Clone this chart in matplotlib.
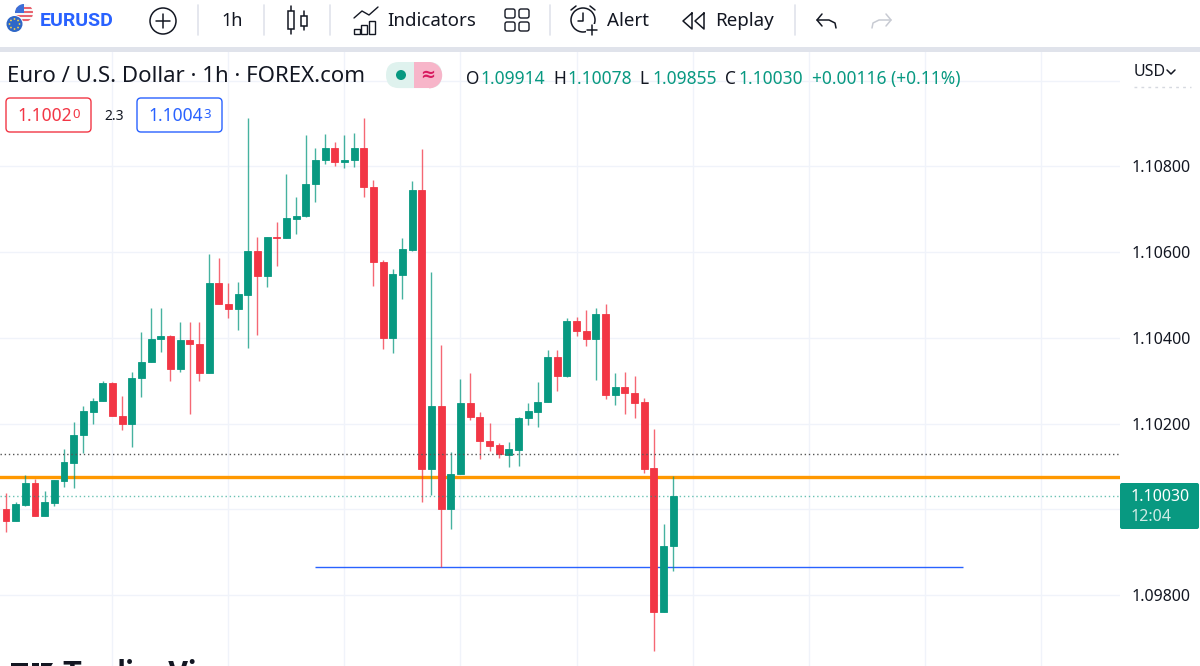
import matplotlib
matplotlib.use('Agg')
import matplotlib.pyplot as plt
import numpy as np
from matplotlib.patches import Circle, FancyBboxPatch, Polygon, Rectangle, Wedge

plt.rcParams['font.family'] = ['Noto Sans', 'DejaVu Sans']

# hourly candles
opens = [1.10001, 1.09973, 1.10010, 1.10061, 1.09984, 1.10015, 1.10066, 1.10109, 1.10173, 1.10228,
         1.10252, 1.10295, 1.10218, 1.10199, 1.10306, 1.10344, 1.10397, 1.10404, 1.10328, 1.10395,
         1.10386, 1.10319, 1.10529, 1.10480, 1.10467, 1.10501, 1.10603, 1.10545, 1.10635, 1.10632,
         1.10678, 1.10684, 1.10759, 1.10814, 1.10842, 1.10811, 1.10814, 1.10842, 1.10752, 1.10578,
         1.10400, 1.10547, 1.10605, 1.10744, 1.10094, 1.10240, 1.10001, 1.10082, 1.10249, 1.10215,
         1.10160, 1.10149, 1.10127, 1.10139, 1.10212, 1.10228, 1.10250, 1.10355, 1.10310, 1.10440,
         1.10417, 1.10398, 1.10456, 1.10267, 1.10285, 1.10272, 1.10250, 1.10096, 1.09760, 1.09914]
highs = [1.10037, 1.10018, 1.10080, 1.10070, 1.10043, 1.10068, 1.10141, 1.10204, 1.10241, 1.10259,
         1.10300, 1.10298, 1.10264, 1.10320, 1.10414, 1.10469, 1.10469, 1.10407, 1.10438, 1.10436,
         1.10436, 1.10596, 1.10586, 1.10527, 1.10531, 1.10913, 1.10635, 1.10635, 1.10671, 1.10782,
         1.10729, 1.10874, 1.10842, 1.10876, 1.10858, 1.10874, 1.10878, 1.10913, 1.10769, 1.10582,
         1.10560, 1.10633, 1.10766, 1.10840, 1.10553, 1.10383, 1.10133, 1.10305, 1.10318, 1.10227,
         1.10201, 1.10155, 1.10156, 1.10216, 1.10247, 1.10298, 1.10371, 1.10371, 1.10446, 1.10448,
         1.10465, 1.10469, 1.10478, 1.10317, 1.10320, 1.10311, 1.10260, 1.10187, 1.09965, 1.10078]
lows = [1.09948, 1.09973, 1.10008, 1.09984, 1.09984, 1.10008, 1.10053, 1.10050, 1.10132, 1.10199,
        1.10252, 1.10217, 1.10185, 1.10146, 1.10261, 1.10343, 1.10368, 1.10299, 1.10321, 1.10223,
        1.10299, 1.10319, 1.10479, 1.10447, 1.10418, 1.10376, 1.10407, 1.10519, 1.10568, 1.10632,
        1.10642, 1.10683, 1.10716, 1.10805, 1.10802, 1.10796, 1.10798, 1.10729, 1.10521, 1.10374,
        1.10365, 1.10491, 1.10603, 1.10017, 1.10033, 1.09865, 1.09955, 1.10082, 1.10208, 1.10117,
        1.10136, 1.10120, 1.10099, 1.10102, 1.10197, 1.10193, 1.10250, 1.10276, 1.10309, 1.10405,
        1.10381, 1.10301, 1.10258, 1.10243, 1.10223, 1.10214, 1.10085, 1.09670, 1.09760, 1.09855]
closes = [1.09973, 1.10012, 1.10061, 1.09984, 1.10016, 1.10068, 1.10110, 1.10173, 1.10229, 1.10253,
          1.10295, 1.10217, 1.10199, 1.10307, 1.10344, 1.10397, 1.10404, 1.10328, 1.10395, 1.10386,
          1.10319, 1.10529, 1.10479, 1.10467, 1.10502, 1.10603, 1.10545, 1.10635, 1.10632, 1.10680,
          1.10684, 1.10760, 1.10815, 1.10842, 1.10811, 1.10815, 1.10842, 1.10752, 1.10578, 1.10400,
          1.10549, 1.10607, 1.10744, 1.10094, 1.10240, 1.10001, 1.10082, 1.10249, 1.10215, 1.10159,
          1.10148, 1.10128, 1.10140, 1.10214, 1.10229, 1.10251, 1.10355, 1.10310, 1.10440, 1.10417,
          1.10398, 1.10456, 1.10267, 1.10285, 1.10272, 1.10247, 1.10094, 1.09760, 1.09914, 1.10030]

price_ticks = [1.098, 1.100, 1.102, 1.104, 1.106, 1.108, 1.110]
price_labels = ['1.09800', '', '1.10200', '1.10400', '1.10600', '1.10800', '']
time_grid = [11, 23, 35, 47, 59, 71, 83, 95, 107]

orange_level = 1.10075
dotted_level = 1.10129
last_close = closes[-1]
drawn_level = 1.09865
drawn_start, drawn_end = 32, 99

green = '#089981'
red = '#F23645'
blue = '#2962FF'
orange = '#FF9800'
ink = '#131722'

fig = plt.figure(figsize=(12, 6.66), dpi=100)
fig.patch.set_facecolor('white')

# price pane, 1120 px wide, from below the toolbar to the bottom edge
ax = fig.add_axes([0, 0, 1120 / 1200, 614 / 666])
x = np.arange(len(closes))
colors = [green if c >= o else red for o, c in zip(opens, closes)]

ax.vlines(x, lows, highs, colors=colors, linewidth=1.0, alpha=0.75, zorder=3)
bottoms = np.minimum(opens, closes)
heights = np.abs(np.array(closes) - np.array(opens))
ax.bar(x, heights, bottom=bottoms, width=0.72, color=colors, edgecolor=colors,
       linewidth=0.6, zorder=4)

ax.axhline(orange_level, color=orange, linewidth=2.4, zorder=2)
ax.axhline(dotted_level, color='#555555', linewidth=1.0, linestyle=(0, (1, 2)), zorder=5)
ax.axhline(last_close, color=green, linewidth=1.0, linestyle=(0, (1, 2)), alpha=0.6, zorder=5)
ax.hlines(drawn_level, drawn_start, drawn_end, color=blue, linewidth=1.0, zorder=2)

ax.set_xlim(-0.62, 115.2)
ax.set_ylim(1.096343, 1.110672)
ax.set_xticks(time_grid)
ax.set_xticklabels([])
ax.yaxis.tick_right()
ax.set_yticks(price_ticks)
ax.set_yticklabels(price_labels)
ax.tick_params(axis='both', length=0)
ax.tick_params(axis='y', pad=8, labelsize=11.5, labelcolor=ink)
ax.grid(True, color='#F0F3FA', linewidth=1.0)
ax.set_axisbelow(True)
for s in ax.spines.values():
    s.set_visible(False)

# toolbar, legend and price tag sit on a pixel overlay
ui = fig.add_axes([0, 0, 1, 1], zorder=10)
ui.set_xlim(0, 1200)
ui.set_ylim(666, 0)
ui.axis('off')
ui.patch.set_alpha(0)


def label(px, py, s, size=12.5, color=ink, ha='left', va='center', **kw):
    return ui.text(px, py, s, fontsize=size, color=color, ha=ha, va=va, **kw)


def stroke(xs, ys, color=ink, lw=1.1):
    ui.plot(xs, ys, color=color, linewidth=lw, solid_capstyle='round', solid_joinstyle='round')


def box(px, py, w, h, edge, face='white', r=3, lw=1.0):
    ui.add_patch(FancyBboxPatch((px + r, py + r), w - 2 * r, h - 2 * r,
                                boxstyle='round,pad=%d' % r, edgecolor=edge, facecolor=face, linewidth=lw))


ui.add_patch(Rectangle((0, 47), 1200, 5, color='#E0E3EB', linewidth=0))

# symbol logo
flag = Wedge((24, 13), 9, 0, 360, color='#F7F7F7', linewidth=0)
ui.add_patch(flag)
for sy in [7, 11, 15, 19]:
    ui.add_patch(Rectangle((15, sy), 18, 2, color='#E8636F', linewidth=0, clip_path=flag))
ui.add_patch(Rectangle((15, 4), 9, 9, color='#3B6FD8', linewidth=0, clip_path=flag))
ui.add_patch(Circle((14.5, 24), 9, color='white', linewidth=0))
ui.add_patch(Circle((14.5, 24), 8, color='#2F67C7', linewidth=0))
for ang in np.arange(0, 360, 45):
    ui.add_patch(Circle((14.5 + 5 * np.cos(np.radians(ang)), 24 + 5 * np.sin(np.radians(ang))), 0.9,
                        color='#F7D24A', linewidth=0))
label(40, 20.5, 'EURUSD', size=14, color=blue, fontweight='bold', family='Roboto')

# add symbol button
ui.add_patch(Circle((163, 21), 13, fill=False, edgecolor=ink, linewidth=1.1))
stroke([156, 170], [21, 21])
stroke([163, 163], [14, 28])

for sep_x in [198, 264, 330, 550, 795]:
    stroke([sep_x, sep_x], [5, 35], color='#E0E3EB', lw=1.2)

label(221, 21, '1h', size=13)

# candle style icon
stroke([291, 291], [6, 34])
ui.add_patch(Rectangle((288, 11), 6, 18, facecolor='white', edgecolor=ink, linewidth=1.1, zorder=3))
stroke([304, 304], [11, 30])
ui.add_patch(Rectangle((301, 16), 6, 10, facecolor='white', edgecolor=ink, linewidth=1.1, zorder=3))

# indicators icon
for bx, by, bh in [(354, 29, 5), (361, 25, 9), (369, 21, 13)]:
    ui.add_patch(Rectangle((bx, by), 6, bh, fill=False, edgecolor=ink, linewidth=1.0))
stroke([354, 362, 369, 378], [18, 11, 15, 7], lw=1.0)
label(387, 21, 'Indicators', size=13.5)

# layouts icon
for gx in [505, 519]:
    for gy in [9, 22]:
        ui.add_patch(FancyBboxPatch((gx + 2, gy + 2), 6, 5, boxstyle='round,pad=2',
                                    fill=False, edgecolor=ink, linewidth=1.0))

# alert icon
ui.add_patch(Circle((583, 20), 12, fill=False, edgecolor=ink, linewidth=1.1))
stroke([571, 576], [10, 6])
stroke([590, 595], [6, 10])
stroke([583, 583, 578], [13, 21, 21])
ui.add_patch(Rectangle((586, 24), 12, 12, color='white', linewidth=0))
stroke([587, 597], [30, 30])
stroke([592, 592], [25, 35])
label(607, 21, 'Alert', size=13.5)

# replay icon
stroke([692, 683, 692, 692], [13, 21, 29, 13])
stroke([704, 695, 704, 704], [13, 21, 29, 13])
label(715, 21, 'Replay', size=13.5)

# undo / redo
stroke([822, 817, 822], [14, 20, 26])
stroke([817, 829, 835, 836], [20, 20, 23, 28])
stroke([886, 891, 886], [14, 20, 26], color='#C8CBD3')
stroke([891, 879, 873, 872], [20, 20, 23, 28], color='#C8CBD3')

# legend row
label(7, 77, 'Euro / U.S. Dollar · 1h · FOREX.com', size=16)
ui.add_patch(FancyBboxPatch((399, 62 + 13), 30, 0.1, boxstyle='round,pad=13', facecolor='#DFF2EE',
                            edgecolor='none'))
ui.add_patch(Rectangle((414, 62), 15, 26.4, color='#F7B5C9', linewidth=0))
ui.add_patch(Wedge((429, 75.2), 13.2, -90, 90, color='#F7B5C9', linewidth=0))
ui.add_patch(Circle((401, 75), 5, color=green, linewidth=0))
label(428, 75, '≈', size=13, color='#D81B60', ha='center', fontweight='bold')

ohlc_x = [466, 553, 639, 725]
ohlc_gap = [14, 14, 13, 13]
for px, gap, letter, val in zip(ohlc_x, ohlc_gap, 'OHLC', [opens[-1], highs[-1], lows[-1], closes[-1]]):
    label(px, 79, letter, size=12.5)
    label(px + gap, 79, '%.5f' % val, size=12.5, color=green)
label(812, 79, '+0.00116 (+0.11%)', size=12.5, color=green)

# bid / ask chips
box(6, 98, 85, 34, '#F23645', r=4)
label(17, 116, '1.1002', size=12.5, color=red)
label(72, 114, '0', size=9.5, color=red)
label(114, 116, '2.3', size=10, ha='center')
box(137, 98, 85, 34, blue, r=4)
label(148, 116, '1.1004', size=12.5, color=blue)
label(203, 114, '3', size=9.5, color=blue)

# price scale corner and tag
label(1134, 72, 'USD', size=11.5)
stroke([1167, 1171, 1175], [70, 74, 70], lw=1.1)
ui.plot([1134, 1191], [87, 87], color='#D6D9E0', linewidth=1.0, linestyle=(0, (2, 3)))

box(1120, 483, 79, 46, green, face=green, r=2, lw=0)
label(1131, 497, '%.5f' % last_close, size=11.5, color='white')
label(1131, 517, '12:04', size=11.5, color='#CDEBE5')

# watermark, cut off by the bottom edge
ui.add_patch(Rectangle((11, 663), 17, 5, color=ink, linewidth=0))
ui.add_patch(Rectangle((32, 663), 7, 5, color=ink, linewidth=0))
ui.add_patch(Polygon([(41, 663), (53, 663), (50, 668), (41, 668)], color=ink, linewidth=0))
label(62, 659, 'TradingView', size=22, va='top', fontweight='bold', family='Roboto')

plt.savefig('out.png', dpi=100)
